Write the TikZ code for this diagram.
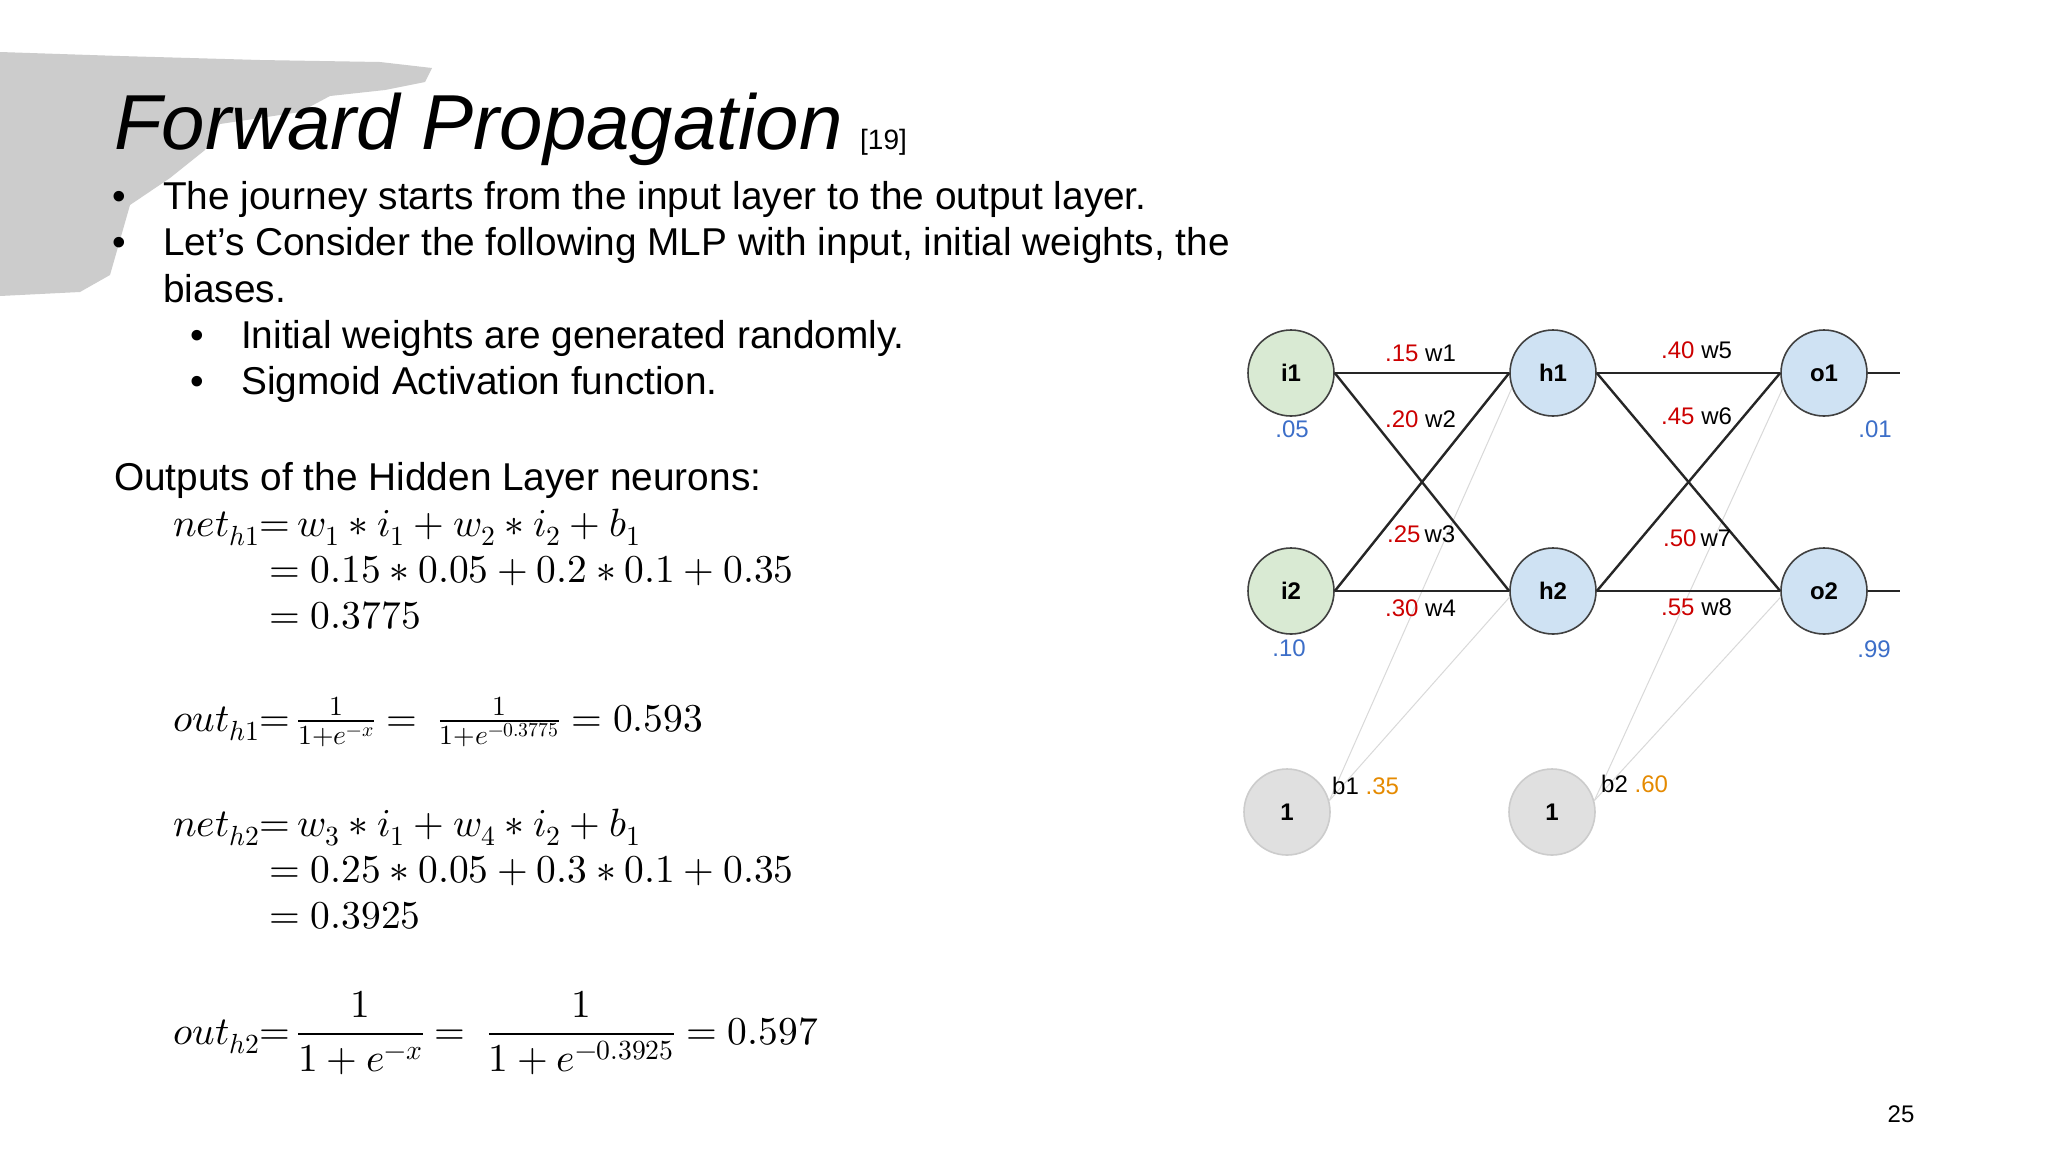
\documentclass[tikz,border=0pt]{standalone}
\usepackage{fontspec}
\setmainfont{Liberation Sans}
\usepackage{amsmath}
\usepackage{unicode-math}
\setmathfont{Latin Modern Math}
\begin{document}
\begin{tikzpicture}[x=1pt,y=-1pt,
  txt/.style={anchor=base west,inner sep=0,font=\fontsize{38.8}{42}\selectfont},
  mth/.style={anchor=base west,inner sep=0,font=\fontsize{39.5}{42}\selectfont},
  neu/.style={circle,draw=black!75,line width=1.6pt,minimum size=86pt,inner sep=0,font=\fontsize{24}{26}\selectfont\bfseries},
  inp/.style={neu,fill={rgb,255:red,217;green,234;blue,211}},
  hid/.style={neu,fill={rgb,255:red,207;green,226;blue,243}},
  bia/.style={neu,draw=black!20,fill=black!12},
  conn/.style={line width=2.4pt,black!85},
  bconn/.style={line width=1pt,black!15},
  wl/.style={anchor=base west,inner sep=0,font=\fontsize{24}{26}\selectfont},
  vl/.style={anchor=base,inner sep=0,font=\fontsize{24}{26}\selectfont,text={rgb,255:red,60;green,110;blue,200}}]
\useasboundingbox (0,0) rectangle (2048,1152);
\fill[white] (0,0) rectangle (2048,1152);
% brush stroke
\fill[black!20] (0,52) -- (120,56) -- (260,60) -- (380,62) -- (432,68) -- (425,82) -- (385,90) -- (330,96) -- (300,112) -- (220,124) -- (205,150) -- (170,178) -- (130,205) -- (120,240) -- (110,275) -- (80,292) -- (0,296) -- cycle;
\node[anchor=base west,inner sep=0,font=\fontsize{78}{80}\selectfont\itshape] (title) at (114,149) {Forward Propagation};
\node[anchor=base west,inner sep=0,font=\fontsize{28}{30}\selectfont] (ref) at (860,149) {[19]};
% bullets
\node[txt] (b1) at (112,209) {•};
\node[txt] (t1) at (163,209) {The journey starts from the input layer to the output layer.};
\node[txt] (b2) at (112,255) {•};
\node[txt] (t2) at (163,255) {Let’s Consider the following MLP with input, initial weights, the};
\node[txt] (t3) at (163,302) {biases.};
\node[txt] (b3) at (190,348) {•};
\node[txt] (t4) at (241,348) {Initial weights are generated randomly.};
\node[txt] (b4) at (190,394) {•};
\node[txt] (t5) at (241,394) {Sigmoid Activation function.};
\node[txt] (t6) at (114,490) {Outputs of the Hidden Layer neurons:};
% math
\node[mth] (m1) at (173,536) {$net_{h1}{=}\,w_1*i_1+w_2*i_2+b_1$};
\node[mth] (m2) at (269,582) {$=0.15*0.05+0.2*0.1+0.35$};
\node[mth] (m3) at (269,628) {$=0.3775$};
\node[mth] (m4) at (173,731) {$out_{h1}{=}\,\tfrac{1}{1+e^{-x}}=\ \tfrac{1}{1+e^{-0.3775}}=0.593$};
\node[mth] (m5) at (173,836) {$net_{h2}{=}\,w_3*i_1+w_4*i_2+b_1$};
\node[mth] (m6) at (269,882) {$=0.25*0.05+0.3*0.1+0.35$};
\node[mth] (m7) at (269,928) {$=0.3925$};
\node[mth] (m8) at (173,1044) {$out_{h2}{=}\,\dfrac{1}{1+e^{-x}}=\ \dfrac{1}{1+e^{-0.3925}}=0.597$};
\node[anchor=base,inner sep=0,font=\fontsize{24}{26}\selectfont] (pg) at (1901,1122) {25};
% network
\node[bia] (c1) at (1287,812) {1};
\node[bia] (c2) at (1552,812) {1};
\node[inp] (i1) at (1291,373) {i1};
\node[inp] (i2) at (1291,591) {i2};
\node[hid] (h1) at (1553,373) {h1};
\node[hid] (h2) at (1553,591) {h2};
\node[hid] (o1) at (1824,373) {o1};
\node[hid] (o2) at (1824,591) {o2};
\draw[bconn] (c1.15) -- (h1.200);
\draw[bconn] (c1.15) -- (h2.188);
\draw[bconn] (c2.15) -- (o1.200);
\draw[bconn] (c2.15) -- (o2.188);
\coordinate (e1) at (1900,373);
\coordinate (e2) at (1900,591);
\draw[conn] (i1.east) -- (h1.west);
\draw[conn] (i1.east) -- (h2.west);
\draw[conn] (i2.east) -- (h1.west);
\draw[conn] (i2.east) -- (h2.west);
\draw[conn] (h1.east) -- (o1.west);
\draw[conn] (h1.east) -- (o2.west);
\draw[conn] (h2.east) -- (o1.west);
\draw[conn] (h2.east) -- (o2.west);
\draw[conn] (o1.east) -- (e1);
\draw[conn] (o2.east) -- (e2);
% labels
\node[vl] (v1) at (1292,437) {.05};
\node[vl] (v2) at (1289,656) {.10};
\node[vl] (v3) at (1875,437) {.01};
\node[vl] (v4) at (1874,657) {.99};
\node[wl] (w1) at (1385,361) {\textcolor{red!80!black}{.15}\ w1};
\node[wl] (w2) at (1385,427) {\textcolor{red!80!black}{.20}\ w2};
\node[wl] (w3) at (1387,542) {\textcolor{red!80!black}{.25}\,w3};
\node[wl] (w4) at (1385,616) {\textcolor{red!80!black}{.30}\ w4};
\node[wl] (w5) at (1661,358) {\textcolor{red!80!black}{.40}\ w5};
\node[wl] (w6) at (1661,424) {\textcolor{red!80!black}{.45}\ w6};
\node[wl] (w7) at (1663,546) {\textcolor{red!80!black}{.50}\,w7};
\node[wl] (w8) at (1661,615) {\textcolor{red!80!black}{.55}\ w8};
\node[wl] (bb1) at (1332,794) {b1 \textcolor{orange!80!yellow!90!black}{.35}};
\node[wl] (bb2) at (1601,792) {b2 \textcolor{orange!80!yellow!90!black}{.60}};
\end{tikzpicture}
\end{document}
